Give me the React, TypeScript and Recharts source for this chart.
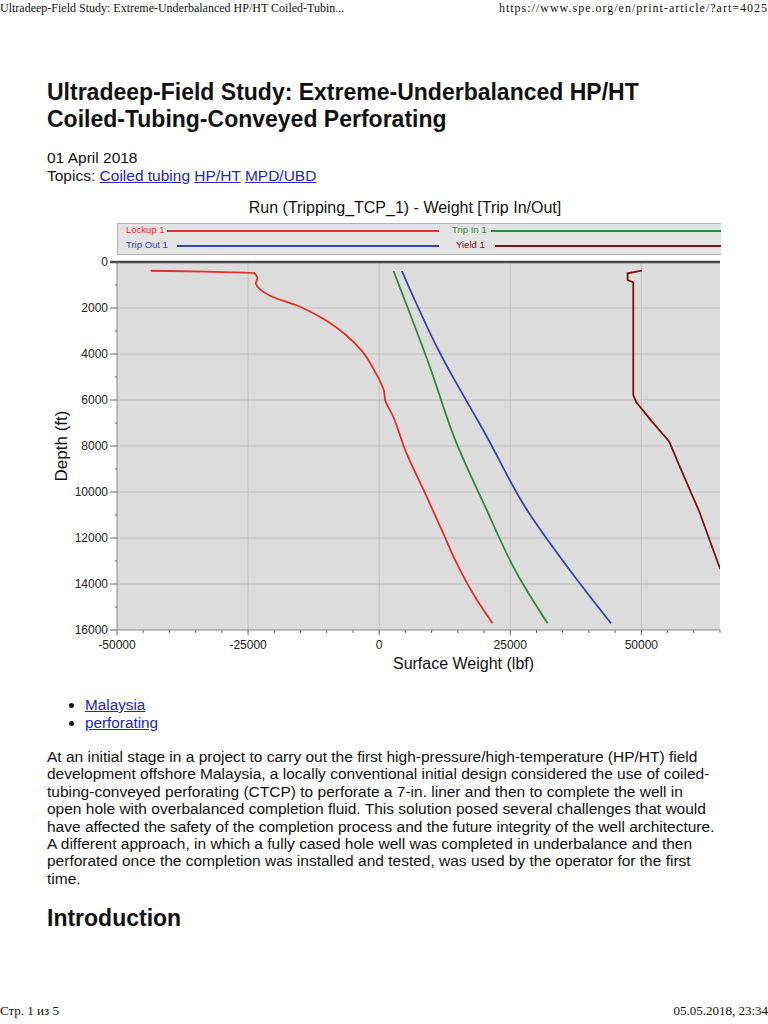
import { LineChart, Line, XAxis, YAxis, ReferenceLine, ReferenceArea } from 'recharts';

// surface weight (lbf) vs depth (ft)
const lockup1 = [
  { w: -43560, d: 380 }, { w: -33000, d: 420 }, { w: -23850, d: 478 }, { w: -23220, d: 709 },
  { w: -23530, d: 926 }, { w: -22900, d: 1143 }, { w: -20360, d: 1509 }, { w: -15890, d: 1870 },
  { w: -10820, d: 2448 }, { w: -6350, d: 3174 }, { w: -3190, d: 3900 }, { w: -630, d: 4839 },
  { w: 950, d: 5639 }, { w: 1145, d: 6000 }, { w: 2540, d: 6652 }, { w: 5090, d: 8248 },
  { w: 8910, d: 10130 }, { w: 12080, d: 11726 }, { w: 14630, d: 13030 }, { w: 18450, d: 14622 },
  { w: 21620, d: 15709 },
];
const tripIn1 = [
  { w: 2730, d: 391 }, { w: 9540, d: 4478 }, { w: 14630, d: 7813 }, { w: 20360, d: 10709 },
  { w: 26080, d: 13465 }, { w: 32110, d: 15709 },
];
const tripOut1 = [
  { w: 4330, d: 391 }, { w: 11450, d: 3900 }, { w: 20360, d: 7522 }, { w: 27990, d: 10709 },
  { w: 35620, d: 13174 }, { w: 44210, d: 15709 },
];
const yield1 = [
  { w: 50120, d: 378 }, { w: 47380, d: 491 }, { w: 47380, d: 783 }, { w: 48460, d: 883 },
  { w: 48460, d: 5783 }, { w: 48980, d: 6074 }, { w: 51520, d: 6796 }, { w: 55330, d: 7813 },
  { w: 56920, d: 8683 }, { w: 61060, d: 10857 }, { w: 64870, d: 13248 }, { w: 66500, d: 14000 },
];

const xTicks = [-50000, -45000, -40000, -35000, -30000, -25000, -20000, -15000, -10000, -5000, 0,
  5000, 10000, 15000, 20000, 25000, 30000, 35000, 40000, 45000, 50000, 55000, 60000, 65000];
const xLabels = [-50000, -25000, 0, 25000, 50000];
const xGrid = [-25000, 0, 25000, 50000];
const yTicks = [0, 1000, 2000, 3000, 4000, 5000, 6000, 7000, 8000, 9000, 10000, 11000, 12000,
  13000, 14000, 15000, 16000];
const yLabels = [0, 2000, 4000, 6000, 8000, 10000, 12000, 14000, 16000];
const yGrid = [2000, 4000, 6000, 8000, 10000, 12000, 14000];

const series = [
  { name: 'Lockup 1', data: lockup1, color: '#e0302a', curve: 'monotoneY' },
  { name: 'Trip In 1', data: tripIn1, color: '#2e8a3e', curve: 'monotoneY' },
  { name: 'Trip Out 1', data: tripOut1, color: '#3646a6', curve: 'monotoneY' },
  { name: 'Yield 1', data: yield1, color: '#7a1414', curve: 'linear' },
];

const bullets = ['Malaysia', 'perforating'];
const topics = ['Coiled tubing', 'HP/HT', 'MPD/UBD'];
const paragraph = [
  'At an initial stage in a project to carry out the first high-pressure/high-temperature (HP/HT) field',
  'development offshore Malaysia, a locally conventional initial design considered the use of coiled-',
  'tubing-conveyed perforating (CTCP) to perforate a 7-in. liner and then to complete the well in',
  'open hole with overbalanced completion fluid. This solution posed several challenges that would',
  'have affected the safety of the completion process and the future integrity of the well architecture.',
  'A different approach, in which a fully cased hole well was completed in underbalance and then',
  'perforated once the completion was installed and tested, was used by the operator for the first',
  'time.',
];

const sans = '"Liberation Sans", Arial, sans-serif';
const serif = '"Liberation Serif", "Times New Roman", serif';
const link = { color: '#2323c8', textDecoration: 'underline' };

const XTick = ({ x, y, payload }: any) => {
  const major = xLabels.includes(payload.value);
  return (
    <g>
      <line x1={x} x2={x} y1={y} y2={y + (major ? 5 : 3)} stroke="#666" />
      {major && (
        <text x={x} y={y + 19} textAnchor="middle" fontSize={12} fill="#222" fontFamily={sans}>
          {payload.value}
        </text>
      )}
    </g>
  );
};

const YTick = ({ x, y, payload }: any) => {
  const major = yLabels.includes(payload.value);
  const top = payload.value === 0;
  return (
    <g>
      <line x1={x - (major ? 7 : 2)} x2={x} y1={y} y2={y} stroke={top ? '#444' : '#666'} strokeWidth={top ? 2.5 : 1} />
      {major && (
        <text x={x - 9} y={y + 4} textAnchor="end" fontSize={12} fill="#222" fontFamily={sans}>
          {payload.value}
        </text>
      )}
    </g>
  );
};

const Legend = () => (
  <div style={{ position: 'absolute', left: 117, top: 223, width: 603, height: 30, background: '#e3e3e3',
    border: '1px solid #b4b4b4', borderRight: 'none', fontFamily: sans, fontSize: 9.5 }}>
    {series.map((s, i) => {
      const row = i < 2 ? 0 : 1;
      const left = i === 0 || i === 2 ? 8 : i === 1 ? 334 : 338;
      const lineStart = i === 0 ? 49 : i === 2 ? 59 : i === 1 ? 373 : 377;
      const lineEnd = i === 0 || i === 2 ? 321 : 603;
      return (
        <div key={s.name}>
          <span style={{ position: 'absolute', left, top: 0 + row * 14.5, color: s.color, lineHeight: '12px' }}>
            {s.name}
          </span>
          <div style={{ position: 'absolute', left: lineStart, width: lineEnd - lineStart, top: 6 + row * 14.5,
            height: 2, background: s.color }} />
        </div>
      );
    })}
  </div>
);

export default function App() {
  return (
    <div style={{ position: 'relative', width: 768, height: 1024, background: '#fff', overflow: 'hidden', fontFamily: sans, color: '#111' }}>
      <style>{'body{margin:0}'}</style>
      <div style={{ position: 'absolute', left: 0, top: 1, fontFamily: serif, fontSize: 12 }}>
        Ultradeep-Field Study: Extreme-Underbalanced HP/HT Coiled-Tubin...
      </div>
      <div style={{ position: 'absolute', right: 0, top: 1, fontFamily: serif, fontSize: 12, letterSpacing: 1 }}>
        https://www.spe.org/en/print-article/?art=4025
      </div>

      <div style={{ position: 'absolute', left: 47, top: 79, fontSize: 23, fontWeight: 'bold', lineHeight: '27px' }}>
        Ultradeep-Field Study: Extreme-Underbalanced HP/HT<br />Coiled-Tubing-Conveyed Perforating
      </div>
      <div style={{ position: 'absolute', left: 47, top: 149, fontSize: 15.5, lineHeight: '18px' }}>
        01 April 2018<br />
        Topics:{' '}
        {topics.map((t, i) => (
          <span key={t}>
            <span style={link}>{t}</span>{i < topics.length - 1 ? ' ' : ''}
          </span>
        ))}
      </div>

      <div style={{ position: 'absolute', left: 0, width: 810, top: 199, textAlign: 'center', fontSize: 16 }}>
        Run (Tripping_TCP_1) - Weight [Trip In/Out]
      </div>
      <Legend />

      <div style={{ position: 'absolute', left: 0, top: 250 }}>
        <LineChart width={740} height={430} margin={{ top: 12, right: 20, bottom: 0, left: 0 }}>
          <ReferenceArea x1={-50000} x2={65000} y1={0} y2={16000} fill="#dcdcdc" fillOpacity={1} stroke="none" ifOverflow="hidden" />
          {xGrid.map((v) => (
            <ReferenceLine key={'x' + v} x={v} stroke="#c2c2c2" />
          ))}
          {yGrid.map((v) => (
            <ReferenceLine key={'y' + v} y={v} stroke="#c2c2c2" />
          ))}
          <XAxis
            type="number"
            dataKey="w"
            domain={[-50000, 65000]}
            ticks={xTicks}
            interval={0}
            allowDataOverflow
            height={50}
            tickSize={0}
            tickMargin={0}
            tick={<XTick />}
            stroke="#888"
            label={{ value: 'Surface Weight (lbf)', position: 'insideBottom', offset: 11, dx: 45, fontSize: 16, fill: '#111', fontFamily: sans }}
          />
          <YAxis
            type="number"
            domain={[0, 16000]}
            reversed
            ticks={yTicks}
            interval={0}
            allowDataOverflow
            width={117}
            tickSize={0}
            tickMargin={0}
            tick={<YTick />}
            stroke="#888"
            label={{ value: 'Depth (ft)', angle: -90, position: 'insideLeft', offset: 61, fontSize: 17, fill: '#111', fontFamily: sans, style: { textAnchor: 'middle' } }}
          />
          <ReferenceLine y={0} stroke="#4a4a4a" strokeWidth={2.5} />
          {series.map((s) => (
            <Line
              key={s.name}
              data={s.data}
              dataKey="d"
              name={s.name}
              type={s.curve as any}
              stroke={s.color}
              strokeWidth={1.8}
              dot={false}
              isAnimationActive={false}
            />
          ))}
        </LineChart>
      </div>

      <ul style={{ position: 'absolute', left: 45, top: 696, margin: 0, paddingLeft: 40, fontSize: 15.3, lineHeight: '18px' }}>
        {bullets.map((b) => (
          <li key={b}>
            <span style={link}>{b}</span>
          </li>
        ))}
      </ul>

      <div style={{ position: 'absolute', left: 47, top: 748, fontSize: 15.5, lineHeight: '17.4px' }}>
        {paragraph.map((l) => (
          <div key={l} style={{ whiteSpace: 'nowrap' }}>{l}</div>
        ))}
      </div>

      <div style={{ position: 'absolute', left: 47, top: 905, fontSize: 23, fontWeight: 'bold' }}>Introduction</div>

      <div style={{ position: 'absolute', left: 0, top: 1003, fontFamily: serif, fontSize: 13 }}>Стр. 1 из 5</div>
      <div style={{ position: 'absolute', right: 0, top: 1003, fontFamily: serif, fontSize: 13 }}>05.05.2018, 23:34</div>
    </div>
  );
}
